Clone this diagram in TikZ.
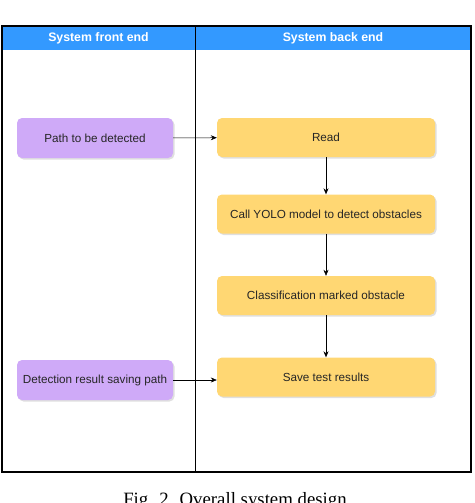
\documentclass[tikz,border=0pt]{standalone}
\usepackage{fontspec}
\setmainfont{Liberation Sans}
\newfontfamily\capfont{Liberation Serif}
\usepackage{xcolor}
\usetikzlibrary{arrows.meta,shadows}
\definecolor{headblue}{RGB}{51,153,255}
\definecolor{frontpurple}{RGB}{207,170,248}
\definecolor{backyellow}{RGB}{255,215,115}

\begin{document}
\begin{tikzpicture}[x=1pt,y=-1pt,
    box/.style={draw=none, rounded corners=5pt, text=black!85, font=\fontsize{11.7}{14}\selectfont,
        drop shadow={shadow xshift=1.5pt, shadow yshift=-1.5pt, opacity=0.25}},
    front/.style={box, fill=frontpurple, minimum width=156pt, minimum height=40pt},
    back/.style={box, fill=backyellow, minimum width=218pt, minimum height=39pt},
    lane/.style={text=white, font=\bfseries\fontsize{12.3}{14}\selectfont},
    flow/.style={-{Stealth[length=6pt,width=5pt]}, line width=0.5pt}]
\useasboundingbox (0,0) rectangle (474,503);
% swimlane frame
\fill[headblue] (2,26) rectangle (471,50);
\draw[line width=0.8pt] (195,26) -- (195,472);
\draw[line width=2.5pt] (2,26) rectangle (471,472);
\node[lane] (fronthead) at (98.5,38.5) {System front end};
\node[lane] (backhead) at (333,38.5) {System back end};
% boxes
\node[front] (path) at (95,138) {Path to be detected};
\node[front] (savepath) at (95,380) {Detection result saving path};
\node[back] (read) at (326,137.5) {Read};
\node[back] (yolo) at (326,214) {Call YOLO model to detect obstacles};
\node[back] (classify) at (326,295.5) {Classification marked obstacle};
\node[back] (save) at (326,377) {Save test results};
% arrows
\draw[flow] (path) -- (read);
\draw[flow] (read) -- (yolo);
\draw[flow] (yolo) -- (classify);
\draw[flow] (classify) -- (save);
\draw[flow] (savepath.east) -- (save.west |- savepath.east);
\node[font=\capfont\fontsize{18.8}{20}\selectfont, anchor=base] (caption) at (235,505) {Fig. 2. Overall system design};
\end{tikzpicture}
\end{document}
